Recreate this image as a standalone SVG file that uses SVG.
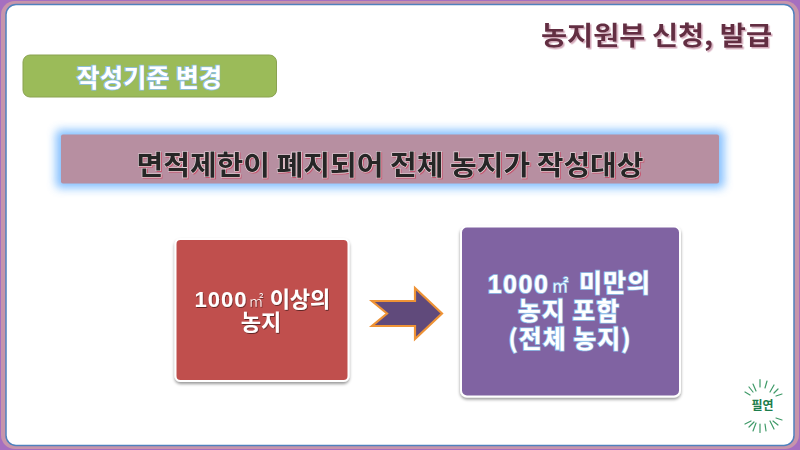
<svg xmlns="http://www.w3.org/2000/svg" width="800" height="450" viewBox="0 0 800 450">
<style>
text{font-family:"Noto Sans CJK KR","Liberation Sans",sans-serif;font-weight:700;text-anchor:middle}
.w{fill:#fff}
.hl{fill:#fff;stroke:#8fc0ea;stroke-width:1.600px;paint-order:stroke}
.n{font-family:"Liberation Sans",sans-serif}
.u{font-weight:300}
.ray{stroke:#3f9a68;stroke-width:1.200;stroke-linecap:round}
</style>
<defs>
<filter id="glow" x="-10%" y="-60%" width="120%" height="220%"><feGaussianBlur stdDeviation="5"/></filter>
<filter id="sh" x="-10%" y="-10%" width="120%" height="120%"><feDropShadow dx="0" dy="2" stdDeviation="1.500" flood-color="#000" flood-opacity=".4"/></filter>
<filter id="tsh" x="-10%" y="-20%" width="120%" height="140%"><feDropShadow dx="0.700" dy="1" stdDeviation="0.500" flood-color="#000" flood-opacity=".5"/></filter>
<filter id="ts1" x="-5%" y="-20%" width="110%" height="140%"><feDropShadow dx="1.500" dy="1.500" stdDeviation="0" flood-color="#d4a9ba" flood-opacity="1"/></filter>
<filter id="ts2" x="-5%" y="-20%" width="110%" height="140%"><feDropShadow dx="1" dy="1" stdDeviation="0" flood-color="#c5566f" flood-opacity="1"/></filter>
</defs>
<rect width="800" height="450" fill="#a56fc0"/>
<rect x="1" y="1" width="798" height="448" rx="14" fill="#c795ab"/>
<rect x="6" y="4.500" width="788" height="441" rx="10" fill="#fff" stroke="#4f81bd" stroke-width="1.500"/>
<g id="title">
<text x="656.500" y="45" font-size="26" fill="#632f43" filter="url(#ts1)" textLength="231" lengthAdjust="spacingAndGlyphs">농지원부 신청, 발급</text>
</g>
<g id="tag">
<rect x="23" y="55" width="253.500" height="42" rx="7" fill="#9bbb59" stroke="#8aa251" stroke-width="1"/>
<text class="hl" x="149.500" y="87" font-size="25" letter-spacing=".3">작성기준 변경</text>
</g>
<g id="banner">
<rect x="56" y="130" width="668" height="58" rx="4" fill="#6cb4ff" opacity=".85" filter="url(#glow)"/>
<rect x="61" y="134.500" width="658" height="49" rx="2" fill="#b78fa1"/>
<text x="390" y="175" font-size="27.500" fill="#262626" stroke="#e4d4da" stroke-width="1.200" style="paint-order:stroke" filter="url(#ts2)" textLength="507" lengthAdjust="spacingAndGlyphs">면적제한이 폐지되어 전체 농지가 작성대상</text>
</g>
<g id="box-left">
<rect x="175.500" y="239" width="173" height="142" rx="5" fill="#c0504d" stroke="#fff" stroke-width="2" filter="url(#sh)"/>
<text class="w" font-size="22" filter="url(#tsh)"><tspan class="n" x="221" y="306.500" letter-spacing="1">1000</tspan><tspan class="u" x="256" y="306" font-size="15">㎡</tspan><tspan x="300" y="306.500">이상의</tspan><tspan x="261" y="329.500">농지</tspan></text>
</g>
<g id="connectors">
<path d="M372 301H415V288L442 313.500L415 339V326H372L387 313.500Z" fill="#604a7b" stroke="#ee9336" stroke-width="2.200"/>
</g>
<g id="box-right">
<rect x="461" y="226.500" width="219" height="170" rx="6" fill="#8064a2" stroke="#fff" stroke-width="2" filter="url(#sh)"/>
<text class="hl" font-size="25"><tspan class="n" x="518.500" y="293" letter-spacing="1.500">1000</tspan><tspan class="u" x="560" y="292" font-size="17">㎡</tspan><tspan x="615" y="292" letter-spacing="1">미만의</tspan><tspan x="569" y="320" letter-spacing="1">농지 포함</tspan><tspan x="570" y="348" letter-spacing="1">(전체 농지)</tspan></text>
</g>
<g id="stamp">
<path class="ray" d="M760 379.500V387M767 381L765 388M753 384L756 391M745 392L750 395M774 385L770 392M782 394L776 396M749 387L753 392M778 389L774 393M760 432.500V424M766 431L765 424M753 431L756 423M745 424L751 421M774 429L770 421M782 420L776 418M749 427L754 422M778 425L773 421"/>
<text x="762.500" y="410" font-size="12" font-weight="500" fill="#1e7d4c">필연</text>
</g>
</svg>
